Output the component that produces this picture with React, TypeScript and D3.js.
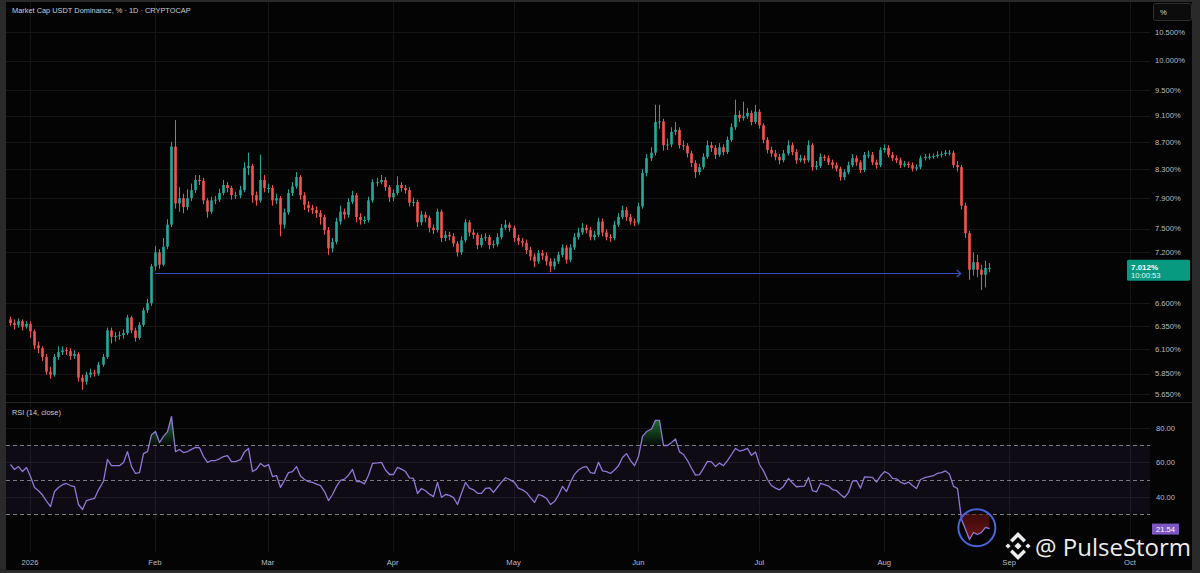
import * as d3 from "d3";
import { useEffect, useRef } from "react";

const W = 1200;
const H = 573;

// daily candles, open = previous close
const firstOpen = 6.42;
const firstDay = "2025-12-27";

const closeDec = [6.38, 6.36, 6.4, 6.34, 6.37];
const closeJan = [6.29, 6.14, 6.11, 6.02, 5.87, 5.84, 6.02, 6.07, 6.09, 6.08, 6.03, 6.05, 5.81, 5.77, 5.84, 5.86, 5.85, 5.94, 6.02, 6.3, 6.23, 6.24, 6.25, 6.27, 6.44, 6.3, 6.22, 6.36, 6.52, 6.6, 7.03];
const closeFeb = [7.2, 7.05, 7.27, 7.55, 8.63, 7.83, 7.9, 7.78, 7.9, 8.01, 8.15, 8.14, 7.87, 7.72, 7.87, 7.88, 7.97, 8.08, 8.04, 7.94, 7.94, 8.01, 8.32, 8.35, 7.94, 7.87, 8.15, 8.04];
const closeMar = [8.04, 7.87, 7.9, 7.55, 7.71, 7.97, 8.06, 8.19, 7.94, 7.81, 7.77, 7.74, 7.7, 7.65, 7.48, 7.25, 7.33, 7.59, 7.72, 7.68, 7.85, 7.94, 7.65, 7.61, 7.61, 7.87, 8.12, 8.12, 8.15, 8.05, 7.91];
const closeApr = [7.97, 8.08, 8.04, 8.01, 7.84, 7.85, 7.58, 7.68, 7.64, 7.51, 7.48, 7.72, 7.38, 7.42, 7.4, 7.31, 7.2, 7.35, 7.58, 7.45, 7.42, 7.29, 7.38, 7.39, 7.29, 7.3, 7.39, 7.51, 7.55, 7.51];
const closeMay = [7.38, 7.34, 7.32, 7.23, 7.15, 7.09, 7.19, 7.16, 7.09, 7.03, 7.09, 7.17, 7.26, 7.11, 7.26, 7.39, 7.45, 7.51, 7.48, 7.39, 7.42, 7.59, 7.45, 7.39, 7.38, 7.55, 7.65, 7.74, 7.65, 7.59, 7.58];
const closeJun = [7.79, 8.25, 8.46, 8.54, 9.0, 9.01, 8.65, 8.66, 8.85, 8.88, 8.65, 8.64, 8.53, 8.39, 8.26, 8.33, 8.48, 8.65, 8.61, 8.51, 8.62, 8.55, 8.73, 8.92, 9.11, 9.06, 9.09, 9.14, 9.0, 9.16];
const closeJul = [8.95, 8.73, 8.58, 8.53, 8.48, 8.43, 8.53, 8.65, 8.55, 8.43, 8.46, 8.43, 8.65, 8.33, 8.35, 8.48, 8.46, 8.4, 8.36, 8.31, 8.19, 8.26, 8.36, 8.46, 8.4, 8.29, 8.51, 8.51, 8.4, 8.36, 8.58];
const closeAug = [8.61, 8.51, 8.46, 8.43, 8.36, 8.38, 8.36, 8.31, 8.33, 8.46, 8.48, 8.48, 8.49, 8.51, 8.52, 8.54, 8.54, 8.36, 8.33, 7.8, 7.44, 6.99, 7.08, 6.99, 6.93, 7.01, 7.012];

const highDec = [6.45, 6.42, 6.43, 6.42, 6.4];
const highJan = [6.4, 6.31, 6.18, 6.13, 6.05, 5.92, 6.05, 6.13, 6.13, 6.12, 6.11, 6.09, 6.07, 5.84, 5.87, 5.9, 5.89, 5.97, 6.05, 6.33, 6.33, 6.28, 6.29, 6.31, 6.47, 6.46, 6.33, 6.39, 6.55, 6.65, 7.06];
const highFeb = [7.28, 7.24, 7.38, 7.62, 8.7, 9.03, 8.05, 7.96, 8.02, 8.1, 8.22, 8.22, 8.18, 7.9, 7.92, 7.93, 8.03, 8.15, 8.12, 8.07, 7.99, 8.07, 8.4, 8.54, 8.38, 7.99, 8.51, 8.22];
const highMar = [8.1, 8.08, 7.96, 7.93, 7.76, 8.02, 8.12, 8.26, 8.22, 7.98, 7.86, 7.81, 7.79, 7.74, 7.68, 7.52, 7.38, 7.64, 7.8, 7.76, 7.9, 8.0, 7.97, 7.7, 7.66, 7.92, 8.16, 8.18, 8.22, 8.19, 8.08];
const highApr = [8.02, 8.2, 8.12, 8.08, 8.05, 7.91, 7.88, 7.73, 7.72, 7.67, 7.55, 7.76, 7.75, 7.47, 7.46, 7.44, 7.34, 7.4, 7.62, 7.61, 7.49, 7.45, 7.43, 7.44, 7.42, 7.35, 7.44, 7.56, 7.61, 7.58];
const highMay = [7.54, 7.42, 7.38, 7.36, 7.27, 7.19, 7.23, 7.23, 7.2, 7.13, 7.13, 7.21, 7.3, 7.29, 7.3, 7.44, 7.51, 7.57, 7.55, 7.52, 7.47, 7.64, 7.63, 7.49, 7.43, 7.6, 7.7, 7.8, 7.78, 7.69, 7.63];
const highJun = [7.84, 8.3, 8.52, 8.62, 9.27, 9.27, 9.05, 8.75, 8.92, 9.0, 8.92, 8.72, 8.68, 8.57, 8.43, 8.38, 8.53, 8.72, 8.7, 8.65, 8.68, 8.66, 8.78, 8.98, 9.35, 9.18, 9.32, 9.22, 9.18, 9.27];
const highJul = [9.2, 8.98, 8.77, 8.63, 8.58, 8.52, 8.58, 8.72, 8.69, 8.59, 8.51, 8.5, 8.72, 8.68, 8.42, 8.53, 8.51, 8.5, 8.44, 8.4, 8.34, 8.3, 8.41, 8.52, 8.5, 8.43, 8.55, 8.57, 8.55, 8.44, 8.62];
const highAug = [8.66, 8.65, 8.55, 8.5, 8.47, 8.42, 8.41, 8.4, 8.37, 8.5, 8.52, 8.53, 8.53, 8.56, 8.56, 8.58, 8.58, 8.57, 8.42, 8.36, 7.84, 7.47, 7.2, 7.17, 7.05, 7.1, 7.07];

const lowDec = [6.35, 6.31, 6.33, 6.3, 6.32];
const lowJan = [6.22, 6.1, 6.06, 5.98, 5.84, 5.8, 5.82, 5.99, 6.04, 6.04, 5.99, 6.0, 5.77, 5.69, 5.74, 5.81, 5.82, 5.83, 5.92, 6.0, 6.16, 6.18, 6.2, 6.21, 6.25, 6.27, 6.18, 6.2, 6.34, 6.49, 6.57];
const lowFeb = [6.98, 7.0, 7.03, 7.24, 7.52, 7.76, 7.72, 7.7, 7.74, 7.86, 7.97, 8.08, 7.82, 7.64, 7.69, 7.82, 7.85, 7.94, 7.98, 7.88, 7.89, 7.9, 7.98, 8.22, 7.84, 7.8, 7.84, 7.98];
const lowMar = [7.97, 7.8, 7.82, 7.4, 7.5, 7.68, 7.93, 8.03, 7.88, 7.74, 7.71, 7.69, 7.64, 7.55, 7.42, 7.17, 7.2, 7.3, 7.55, 7.62, 7.64, 7.82, 7.58, 7.55, 7.56, 7.58, 7.84, 8.06, 8.09, 8.0, 7.85];
const lowApr = [7.86, 7.94, 7.99, 7.96, 7.79, 7.79, 7.52, 7.54, 7.58, 7.45, 7.43, 7.45, 7.33, 7.34, 7.35, 7.27, 7.15, 7.17, 7.32, 7.4, 7.37, 7.24, 7.26, 7.34, 7.24, 7.25, 7.27, 7.36, 7.48, 7.46];
const lowMay = [7.33, 7.29, 7.27, 7.18, 7.1, 7.02, 7.06, 7.11, 7.04, 6.96, 6.99, 7.06, 7.14, 7.06, 7.08, 7.23, 7.36, 7.42, 7.44, 7.35, 7.35, 7.39, 7.4, 7.35, 7.33, 7.35, 7.52, 7.62, 7.6, 7.55, 7.53];
const lowJun = [7.55, 7.76, 8.2, 8.42, 8.5, 8.9, 8.57, 8.58, 8.62, 8.8, 8.6, 8.58, 8.47, 8.33, 8.18, 8.22, 8.3, 8.45, 8.55, 8.45, 8.48, 8.5, 8.52, 8.7, 8.88, 9.0, 9.02, 9.05, 8.95, 8.97];
const lowJul = [8.9, 8.68, 8.53, 8.48, 8.43, 8.37, 8.4, 8.5, 8.5, 8.38, 8.4, 8.38, 8.4, 8.28, 8.29, 8.32, 8.42, 8.36, 8.31, 8.27, 8.14, 8.15, 8.23, 8.33, 8.35, 8.25, 8.26, 8.46, 8.36, 8.31, 8.33];
const lowAug = [8.54, 8.47, 8.42, 8.39, 8.32, 8.33, 8.32, 8.27, 8.28, 8.3, 8.43, 8.44, 8.45, 8.46, 8.47, 8.49, 8.5, 8.32, 8.27, 7.75, 7.38, 6.87, 6.92, 6.9, 6.75, 6.78, 6.96];

// RSI (14, close), one value per candle
const rsiDec = [58.7, 55.8, 57.5, 54.6, 57];
const rsiJan = [51.7, 45.4, 43.5, 41, 37.5, 34.3, 43, 45.4, 47, 47.7, 46.5, 45.9, 35.5, 32.6, 37.8, 38.5, 39, 44, 49, 61.6, 58, 58, 58, 59.9, 66.2, 57.5, 53.5, 54, 65, 66.2, 76];
const rsiFeb = [77.8, 71.4, 75, 77.8, 86.5, 66.2, 67.4, 65.6, 66.2, 67.5, 68.6, 68.4, 63.3, 59.9, 61, 61, 62, 63.3, 63.9, 60.4, 60.4, 61.5, 66, 68, 54.6, 56, 59.3, 57.5];
const rsiMar = [58.7, 51.7, 52.3, 45.4, 49.5, 54, 54.6, 57.5, 52, 50, 48.8, 48.3, 47.3, 46.5, 43, 37.8, 41.3, 46, 49.5, 50.2, 52.5, 55.8, 48.8, 48.8, 47.5, 52.5, 59.3, 59.6, 59.9, 55.5, 52.9];
const rsiApr = [52.9, 57, 56, 54.6, 51, 50.6, 41.9, 44.8, 43.5, 41.5, 40.1, 48.3, 39.6, 41.3, 40.8, 39.5, 35.5, 42, 48.3, 45, 44, 42, 42, 44.8, 45.2, 42.5, 45.5, 48.5, 51, 50];
const rsiMay = [48.3, 44.8, 44, 42.5, 39.5, 36.7, 41.3, 40.5, 39, 35.5, 37.2, 41, 46, 43, 48.5, 53, 55.5, 57, 57.5, 54, 53.5, 60, 55, 54.6, 53.5, 55.5, 58, 62.8, 65, 61, 58];
const rsiJun = [63.3, 75, 77.8, 79.3, 84.3, 84.3, 69.7, 69.7, 71.5, 73.5, 66, 64.5, 61, 56.5, 52.5, 52.8, 56.5, 60.5, 60.2, 57.5, 59.5, 58, 61, 64.5, 68, 66.5, 67, 68, 64, 66];
const rsiJul = [58.7, 55, 50, 46.5, 45, 44, 46, 50.6, 48, 45.8, 46, 46.2, 51.2, 43.5, 42.8, 47.7, 47, 46.2, 44.2, 43.6, 41.3, 39.5, 42.5, 49, 49.4, 45, 51.5, 51.4, 51.2, 48.5, 52];
const rsiAug = [54.6, 53.5, 50.6, 50.4, 48.5, 47.5, 48.5, 46.5, 44.8, 50, 51.2, 51.7, 52.2, 53.6, 54, 55, 53, 46, 44.8, 27, 21, 15.2, 19.3, 18.1, 19.3, 22.2, 21.54];

const closes = [...closeDec, ...closeJan, ...closeFeb, ...closeMar, ...closeApr, ...closeMay, ...closeJun, ...closeJul, ...closeAug];
const highs = [...highDec, ...highJan, ...highFeb, ...highMar, ...highApr, ...highMay, ...highJun, ...highJul, ...highAug];
const lows = [...lowDec, ...lowJan, ...lowFeb, ...lowMar, ...lowApr, ...lowMay, ...lowJun, ...lowJul, ...lowAug];
const rsi = [...rsiDec, ...rsiJan, ...rsiFeb, ...rsiMar, ...rsiApr, ...rsiMay, ...rsiJun, ...rsiJul, ...rsiAug];

const monthStarts = ["2026-01-01", "2026-02-01", "2026-03-01", "2026-04-01", "2026-05-01", "2026-06-01", "2026-07-01", "2026-08-01", "2026-09-01", "2026-10-01"];
const monthLabels = ["2026", "Feb", "Mar", "Apr", "May", "Jun", "Jul", "Aug", "Sep", "Oct"];

const priceTicks = [10.5, 10, 9.5, 9.1, 8.7, 8.3, 7.9, 7.5, 7.2, 6.6, 6.35, 6.1, 5.85, 5.65];
const rsiTicks = [80, 60, 40];
const rsiLevels = [70, 50, 30];

const supportPrice = 6.95;
const supportFrom = "2026-02-01";
const supportTo = "2026-08-20";

const title = "Market Cap USDT Dominance, % · 1D · CRYPTOCAP";
const countdown = "10:00:53";
const watermark = "@ PulseStorm";

const UP = "#26a69a";
const DOWN = "#ef5350";
const FONT = "'Liberation Sans', Arial, sans-serif";

type Candle = { date: Date; o: number; h: number; l: number; c: number };

export default function App() {
  const ref = useRef<SVGSVGElement | null>(null);

  useEffect(() => {
    if (!ref.current) return;
    const svg = d3.select(ref.current);
    svg.selectAll("*").remove();

    const day0 = new Date(firstDay + "T00:00:00Z");
    const candles: Candle[] = closes.map((c, i) => {
      const o = i === 0 ? firstOpen : closes[i - 1];
      return {
        date: d3.utcDay.offset(day0, i),
        o,
        c,
        h: Math.max(highs[i], o, c),
        l: Math.min(lows[i], o, c),
      };
    });

    const plotL = 6;
    const plotR = 1150;
    const priceTop = 2;
    const priceBot = 402;
    const rsiBot = 552;

    const x = d3
      .scaleUtc()
      .domain([new Date("2026-01-01T00:00:00Z"), new Date("2026-10-01T00:00:00Z")])
      .range([30, 1130]);
    const y = d3.scaleLog().domain([5.65, 10.5]).range([394, 32]);
    const yr = d3.scaleLinear().domain([30, 70]).range([514, 445]);
    const bw = (x(d3.utcDay.offset(day0, 1)) - x(day0)) * 0.66;

    // frame
    svg.append("rect").attr("width", W).attr("height", H).attr("fill", "#2a2a2a");
    svg.append("rect").attr("x", plotL).attr("y", priceTop).attr("width", 1192 - plotL).attr("height", 570 - priceTop).attr("fill", "#040404");

    const defs = svg.append("defs");
    defs.append("clipPath").attr("id", "pricePane").append("rect").attr("x", plotL).attr("y", priceTop).attr("width", plotR - plotL).attr("height", priceBot - priceTop);
    defs.append("clipPath").attr("id", "obClip").append("rect").attr("x", plotL).attr("y", 400).attr("width", plotR - plotL).attr("height", yr(70) - 400);
    defs.append("clipPath").attr("id", "osClip").append("rect").attr("x", plotL).attr("y", yr(30)).attr("width", plotR - plotL).attr("height", rsiBot - yr(30));
    const gUp = defs.append("linearGradient").attr("id", "obGrad").attr("gradientUnits", "userSpaceOnUse").attr("x1", 0).attr("y1", yr(88)).attr("x2", 0).attr("y2", yr(70));
    gUp.append("stop").attr("offset", "0%").attr("stop-color", "rgba(40,170,70,0.75)");
    gUp.append("stop").attr("offset", "100%").attr("stop-color", "rgba(40,170,70,0.05)");
    const gDn = defs.append("linearGradient").attr("id", "osGrad").attr("gradientUnits", "userSpaceOnUse").attr("x1", 0).attr("y1", yr(30)).attr("x2", 0).attr("y2", yr(12));
    gDn.append("stop").attr("offset", "0%").attr("stop-color", "rgba(110,18,18,0.55)");
    gDn.append("stop").attr("offset", "100%").attr("stop-color", "rgba(160,28,28,0.75)");

    // grid
    const grid = svg.append("g").attr("stroke", "#151515").attr("stroke-width", 1);
    monthStarts.forEach((m) => {
      const xv = Math.round(x(new Date(m + "T00:00:00Z"))) + 0.5;
      grid.append("line").attr("x1", xv).attr("x2", xv).attr("y1", priceTop).attr("y2", rsiBot);
    });
    priceTicks.forEach((p) => {
      const yv = Math.round(y(p)) + 0.5;
      grid.append("line").attr("x1", plotL).attr("x2", plotR).attr("y1", yv).attr("y2", yv);
    });
    rsiTicks.forEach((r) => {
      const yv = Math.round(yr(r)) + 0.5;
      grid.append("line").attr("x1", plotL).attr("x2", plotR).attr("y1", yv).attr("y2", yv);
    });

    // pane separator
    svg.append("line").attr("x1", plotL).attr("x2", 1192).attr("y1", priceBot + 0.5).attr("y2", priceBot + 0.5).attr("stroke", "#262626");

    // candles
    const cg = svg.append("g").attr("clip-path", "url(#pricePane)");
    const cs = cg.selectAll("g").data(candles).join("g");
    cs.append("line")
      .attr("x1", (d) => Math.round(x(d.date)) + 0.5)
      .attr("x2", (d) => Math.round(x(d.date)) + 0.5)
      .attr("y1", (d) => y(d.h))
      .attr("y2", (d) => y(d.l))
      .attr("stroke", (d) => (d.c >= d.o ? UP : DOWN))
      .attr("stroke-width", 1);
    cs.append("rect")
      .attr("x", (d) => Math.round(x(d.date)) + 0.5 - bw / 2)
      .attr("width", bw)
      .attr("y", (d) => y(Math.max(d.o, d.c)))
      .attr("height", (d) => Math.max(1, Math.abs(y(d.o) - y(d.c))))
      .attr("fill", (d) => (d.c >= d.o ? UP : DOWN));

    // support line with arrow
    const sx1 = x(new Date(supportFrom + "T00:00:00Z"));
    const sx2 = x(new Date(supportTo + "T00:00:00Z"));
    const sy = Math.round(y(supportPrice)) + 0.5;
    svg.append("line").attr("x1", sx1).attr("x2", sx2).attr("y1", sy).attr("y2", sy).attr("stroke", "#3d4fc4").attr("stroke-width", 1.1);
    svg.append("path")
      .attr("d", `M${sx2 - 4},${sy - 3.5}L${sx2},${sy}L${sx2 - 4},${sy + 3.5}`)
      .attr("fill", "none")
      .attr("stroke", "#3d4fc4")
      .attr("stroke-width", 1.1);

    // RSI band
    svg.append("rect").attr("x", plotL).attr("width", plotR - plotL).attr("y", yr(70)).attr("height", yr(30) - yr(70)).attr("fill", "rgba(126,87,194,0.09)");
    rsiLevels.forEach((lv) => {
      const yv = Math.round(yr(lv)) + 0.5;
      svg.append("line").attr("x1", plotL).attr("x2", plotR).attr("y1", yv).attr("y2", yv).attr("stroke", "#7a7a80").attr("stroke-width", 1).attr("stroke-dasharray", "4,3");
    });

    const rsiPts = candles.map((d, i) => ({ date: d.date, v: rsi[i] }));
    const xr = (d: { date: Date }) => Math.round(x(d.date)) + 0.5;
    const obArea = d3.area<{ date: Date; v: number }>().x(xr).y0(yr(70)).y1((d) => yr(d.v));
    const osArea = d3.area<{ date: Date; v: number }>().x(xr).y0(yr(30)).y1((d) => yr(d.v));
    svg.append("path").attr("d", obArea(rsiPts) ?? "").attr("fill", "url(#obGrad)").attr("clip-path", "url(#obClip)");
    svg.append("path").attr("d", osArea(rsiPts) ?? "").attr("fill", "url(#osGrad)").attr("clip-path", "url(#osClip)");
    const rsiLine = d3.line<{ date: Date; v: number }>().x(xr).y((d) => yr(d.v));
    svg.append("path").attr("d", rsiLine(rsiPts) ?? "").attr("fill", "none").attr("stroke", "#9178d6").attr("stroke-width", 1.3).attr("stroke-linejoin", "round");

    // highlight circle
    const last = rsiPts[rsiPts.length - 1];
    svg.append("circle")
      .attr("cx", x(d3.utcDay.offset(last.date, -3)))
      .attr("cy", yr(22))
      .attr("r", 18.5)
      .attr("fill", "none")
      .attr("stroke", "#4a63d8")
      .attr("stroke-width", 2);

    // titles
    svg.append("text").attr("x", 12).attr("y", 13).attr("fill", "#c9ccd4").attr("font-size", 7.4).attr("font-family", FONT).text(title);
    svg.append("text").attr("x", 12).attr("y", 415).attr("fill", "#c9ccd4").attr("font-size", 7.4).attr("font-family", FONT).text("RSI (14, close)");

    // price axis labels
    const axisText = svg.append("g").attr("fill", "#b8bbc3").attr("font-size", 7.6).attr("font-family", FONT);
    priceTicks.forEach((p) => {
      axisText.append("text").attr("x", 1155).attr("y", y(p) + 2.8).text(d3.format(".3f")(p) + "%");
    });
    rsiTicks.forEach((r) => {
      axisText.append("text").attr("x", 1156).attr("y", yr(r) + 2.8).text(d3.format(".2f")(r));
    });
    monthStarts.forEach((m, i) => {
      axisText.append("text").attr("x", x(new Date(m + "T00:00:00Z"))).attr("y", 565).attr("text-anchor", "middle").text(monthLabels[i]);
    });

    // "%" box
    svg.append("rect").attr("x", 1153.5).attr("y", 3.5).attr("width", 38).attr("height", 17).attr("rx", 2).attr("fill", "#0c0c0c").attr("stroke", "#2e2e2e");
    svg.append("text").attr("x", 1160).attr("y", 15).attr("fill", "#d1d4dc").attr("font-size", 7.6).attr("font-family", FONT).text("%");

    // last price label
    const lastC = candles[candles.length - 1];
    const ly = y(lastC.c);
    svg.append("rect").attr("x", 1127).attr("y", ly - 8).attr("width", 63).attr("height", 21).attr("rx", 1.5).attr("fill", "#089981");
    svg.append("text").attr("x", 1131).attr("y", ly + 2).attr("fill", "#ffffff").attr("font-size", 8).attr("font-weight", "bold").attr("font-family", FONT).text(d3.format(".3f")(lastC.c) + "%");
    svg.append("text").attr("x", 1131).attr("y", ly + 10.5).attr("fill", "#e8f5f2").attr("font-size", 7.6).attr("font-family", FONT).text(countdown);

    // last RSI label
    const lry = yr(last.v);
    svg.append("rect").attr("x", 1152).attr("y", lry - 5).attr("width", 27).attr("height", 11).attr("fill", "#7e57c2");
    svg.append("text").attr("x", 1165.5).attr("y", lry + 3).attr("text-anchor", "middle").attr("fill", "#ffffff").attr("font-size", 7.6).attr("font-family", FONT).text(d3.format(".2f")(last.v));

    // watermark
    const wm = svg.append("g").attr("fill", "#ececec");
    const lx = 1018;
    const lyy = 546;
    const dia = (cx: number, cy: number, s: number) => `M${cx},${cy - s}L${cx + s},${cy}L${cx},${cy + s}L${cx - s},${cy}Z`;
    wm.append("path").attr("d", dia(lx, lyy, 3.6));
    wm.append("path").attr("d", dia(lx - 10, lyy, 2.6));
    wm.append("path").attr("d", dia(lx + 10, lyy, 2.6));
    wm.append("path").attr("d", `M${lx},${lyy - 14}L${lx + 8},${lyy - 6}L${lx + 5.5},${lyy - 3.5}L${lx},${lyy - 9}L${lx - 5.5},${lyy - 3.5}L${lx - 8},${lyy - 6}Z`);
    wm.append("path").attr("d", `M${lx},${lyy + 14}L${lx + 8},${lyy + 6}L${lx + 5.5},${lyy + 3.5}L${lx},${lyy + 9}L${lx - 5.5},${lyy + 3.5}L${lx - 8},${lyy + 6}Z`);
    wm.append("text").attr("x", 1035).attr("y", 556).attr("font-size", 24).attr("font-family", "'Open Sans', 'Noto Sans', sans-serif").text(watermark);
  }, []);

  return (
    <svg
      ref={ref}
      width={W}
      height={H}
      viewBox={`0 0 ${W} ${H}`}
      style={{ position: "absolute", left: 0, top: 0, display: "block" }}
    />
  );
}
